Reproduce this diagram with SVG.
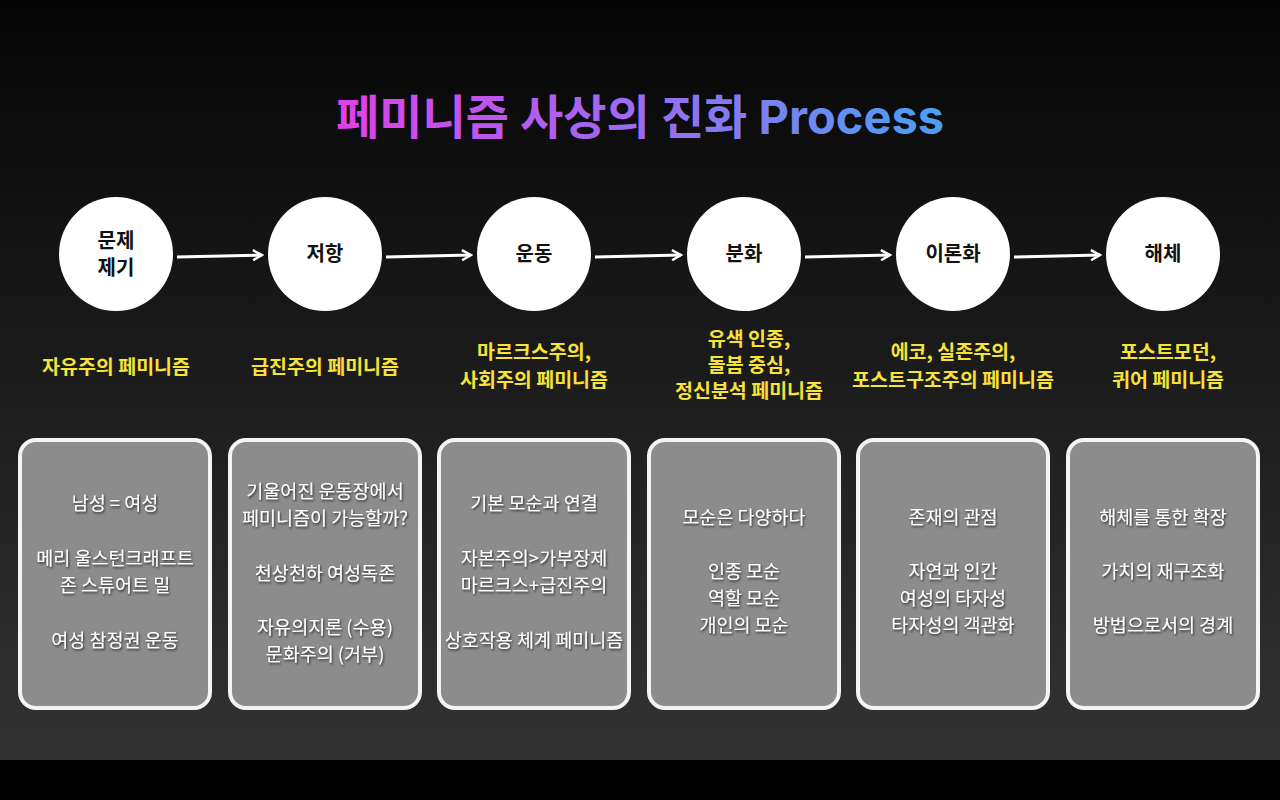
<svg xmlns="http://www.w3.org/2000/svg" width="1280" height="800" viewBox="0 0 1280 800">
<defs>
<linearGradient id="bg" x1="0" y1="0" x2="0" y2="1"><stop offset="0" stop-color="#050505"/><stop offset="1" stop-color="#333"/></linearGradient>
<linearGradient id="tg" x1="0" y1="0" x2="1" y2="0"><stop offset="0" stop-color="#e040e8"/><stop offset="0.5" stop-color="#9a6cf0"/><stop offset="1" stop-color="#4aa0f0"/></linearGradient>
<filter id="sh" x="-10%" y="-10%" width="120%" height="130%"><feDropShadow dx="1" dy="1.5" stdDeviation="1" flood-color="#000" flood-opacity="0.7"/></filter>
<marker id="ah" markerWidth="12" markerHeight="12" refX="10" refY="6" orient="auto" markerUnits="userSpaceOnUse"><path d="M1,1 L10,6 L1,11" fill="none" stroke="#fff" stroke-width="2.5"/></marker>
</defs>
<style>
.c{fill:#fff}
.ct{font-family:"Noto Sans CJK KR","Noto Sans",sans-serif;font-size:20px;font-weight:bold;fill:#111;text-anchor:middle}
.y{font-family:"Noto Sans CJK KR","Noto Sans",sans-serif;font-size:19.5px;font-weight:bold;fill:#f7e23a;text-anchor:middle}
.b{fill:#8c8c8c;stroke:#f4f4f4;stroke-width:4}
.bt{font-family:"Noto Sans CJK KR","Noto Sans",sans-serif;font-size:18.5px;fill:#fff;text-anchor:middle;filter:url(#sh)}
.a{stroke:#fff;stroke-width:3;fill:none;marker-end:url(#ah)}
</style>
<rect width="1280" height="760" fill="url(#bg)"/>
<rect y="760" width="1280" height="40" fill="#000"/>
<text x="640" y="134" text-anchor="middle" font-family="Inter,'Noto Sans CJK KR',sans-serif" font-size="47" font-weight="bold" fill="url(#tg)">페미니즘 사상의 진화 Process</text>
<g id="connectors">
<line class="a" x1="177" y1="257" x2="262" y2="255"/>
<line class="a" x1="386" y1="257" x2="471" y2="255"/>
<line class="a" x1="595" y1="257" x2="681" y2="255"/>
<line class="a" x1="805" y1="257" x2="890" y2="255"/>
<line class="a" x1="1014" y1="257" x2="1100" y2="255"/>
</g>
<g id="n1"><circle class="c" cx="116" cy="254" r="57"/><text class="ct" x="116" y="248">문제</text><text class="ct" x="116" y="275">제기</text>
<text class="y" x="116" y="374">자유주의 페미니즘</text>
<rect class="b" x="20" y="440" width="190" height="268" rx="16"/>
<text class="bt" x="115" y="510">남성 = 여성</text><text class="bt" x="115" y="565">메리 울스턴크래프트</text><text class="bt" x="115" y="592">존 스튜어트 밀</text><text class="bt" x="115" y="647">여성 참정권 운동</text></g>
<g id="n2"><circle class="c" cx="325" cy="254" r="57"/><text class="ct" x="325" y="261">저항</text>
<text class="y" x="325" y="374">급진주의 페미니즘</text>
<rect class="b" x="230" y="440" width="190" height="268" rx="16"/>
<text class="bt" x="325" y="498">기울어진 운동장에서</text><text class="bt" x="325" y="525">페미니즘이 가능할까?</text><text class="bt" x="325" y="580">천상천하 여성독존</text><text class="bt" x="325" y="634">자유의지론 (수용)</text><text class="bt" x="325" y="661">문화주의 (거부)</text></g>
<g id="n3"><circle class="c" cx="534" cy="254" r="57"/><text class="ct" x="534" y="261">운동</text>
<text class="y" x="534" y="359">마르크스주의,</text><text class="y" x="534" y="387">사회주의 페미니즘</text>
<rect class="b" x="439" y="440" width="190" height="268" rx="16"/>
<text class="bt" x="534" y="510">기본 모순과 연결</text><text class="bt" x="534" y="565">자본주의&gt;가부장제</text><text class="bt" x="534" y="592">마르크스+급진주의</text><text class="bt" x="534" y="647">상호작용 체계 페미니즘</text></g>
<g id="n4"><circle class="c" cx="744" cy="254" r="57"/><text class="ct" x="744" y="261">분화</text>
<text class="y" x="749" y="346">유색 인종,</text><text class="y" x="749" y="372">돌봄 중심,</text><text class="y" x="749" y="398">정신분석 페미니즘</text>
<rect class="b" x="649" y="440" width="190" height="268" rx="16"/>
<text class="bt" x="744" y="524">모순은 다양하다</text><text class="bt" x="744" y="578">인종 모순</text><text class="bt" x="744" y="605">역할 모순</text><text class="bt" x="744" y="632">개인의 모순</text></g>
<g id="n5"><circle class="c" cx="953" cy="254" r="57"/><text class="ct" x="953" y="261">이론화</text>
<text class="y" x="953" y="359">에코, 실존주의,</text><text class="y" x="953" y="387">포스트구조주의 페미니즘</text>
<rect class="b" x="858" y="440" width="190" height="268" rx="16"/>
<text class="bt" x="953" y="524">존재의 관점</text><text class="bt" x="953" y="578">자연과 인간</text><text class="bt" x="953" y="605">여성의 타자성</text><text class="bt" x="953" y="632">타자성의 객관화</text></g>
<g id="n6"><circle class="c" cx="1163" cy="254" r="57"/><text class="ct" x="1163" y="261">해체</text>
<text class="y" x="1168" y="359">포스트모던,</text><text class="y" x="1168" y="387">퀴어 페미니즘</text>
<rect class="b" x="1068" y="440" width="190" height="268" rx="16"/>
<text class="bt" x="1163" y="524">해체를 통한 확장</text><text class="bt" x="1163" y="578">가치의 재구조화</text><text class="bt" x="1163" y="632">방법으로서의 경계</text></g>
</svg>
